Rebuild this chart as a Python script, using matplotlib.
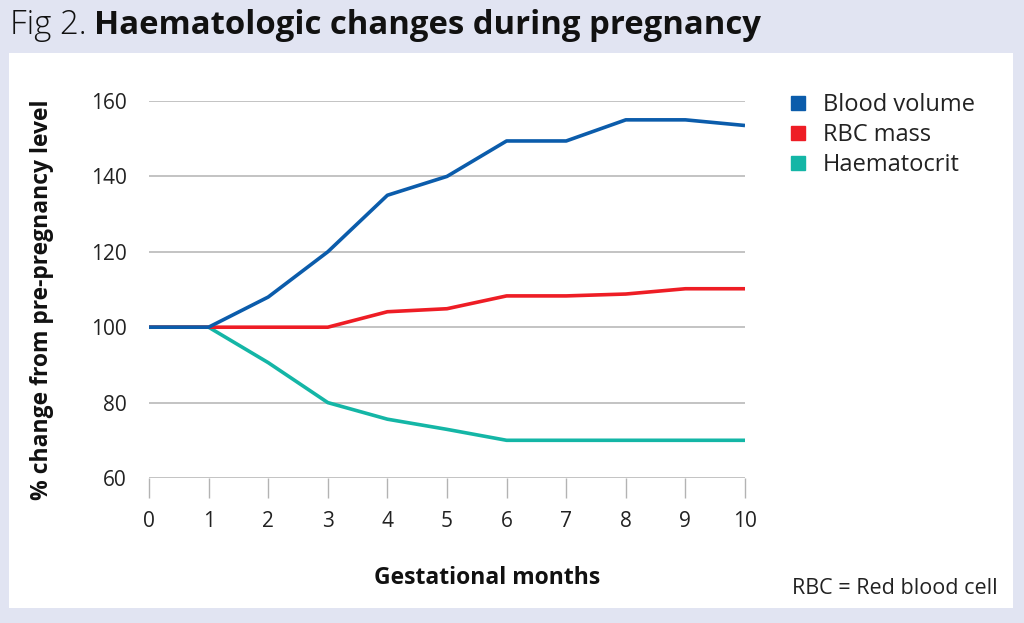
import matplotlib
matplotlib.use('Agg')
import matplotlib.pyplot as plt
from matplotlib.lines import Line2D
from matplotlib.patches import Rectangle

plt.rcParams['font.family'] = ['Open Sans', 'DejaVu Sans']

# data
months = [0, 1, 2, 3, 4, 5, 6, 7, 8, 9, 10]
blood_volume = [100, 100, 108, 120, 135, 140, 149.4, 149.4, 155, 155, 153.5]
rbc_mass = [100, 100, 100, 100, 104.1, 104.9, 108.3, 108.3, 108.8, 110.2, 110.2]
haematocrit = [100, 100, 90.6, 80, 75.6, 72.9, 70, 70, 70, 70, 70]
y_ticks = [60, 80, 100, 120, 140, 160]
series_names = ['Blood volume', 'RBC mass', 'Haematocrit']
series_colors = ['#0b5cab', '#ee1d25', '#14b6a6']

W, H = 1024, 623
fig = plt.figure(figsize=(W / 100, H / 100), dpi=100)
fig.patch.set_facecolor('#e1e4f2')

# white panel behind the chart
fig.patches.append(Rectangle((9 / W, 1 - 608 / H), (1013 - 9) / W, (608 - 53) / H,
                             transform=fig.transFigure, facecolor='white',
                             edgecolor='none', zorder=-1))

ax = fig.add_axes([149 / W, 1 - 478 / H, (745 - 149) / W, (478 - 101) / H])
ax.set_zorder(2)
ax.set_facecolor('none')

ax.plot(months, haematocrit, color=series_colors[2], lw=2.6, solid_capstyle='butt', zorder=3)
ax.plot(months, rbc_mass, color=series_colors[1], lw=2.6, solid_capstyle='butt', zorder=4)
ax.plot(months, blood_volume, color=series_colors[0], lw=2.6, solid_capstyle='butt', zorder=5)

ax.set_xlim(0, 10)
ax.set_ylim(60, 160)
ax.set_xticks(months)
ax.set_yticks(y_ticks)
ax.set_xticklabels([str(m) for m in months])
for s in ax.spines.values():
    s.set_visible(False)
ax.grid(axis='y', color='#b3b3b3', lw=1.1, zorder=1)
ax.set_axisbelow(True)
ax.tick_params(axis='x', length=14.5, width=1, color='#b3b3b3', pad=9,
               labelsize=15, labelcolor='#222222')
ax.tick_params(axis='y', length=0, pad=16, labelsize=15, labelcolor='#222222')

fig.text(487 / W, 1 - 578 / H, 'Gestational months', ha='center', va='center',
         fontsize=16.5, fontweight='bold', color='#111111')
fig.text(42 / W, 1 - 300 / H, '% change from pre-pregnancy level', ha='center',
         va='center', rotation=90, fontsize=16.5, fontweight='bold', color='#111111')
fig.text(998 / W, 1 - 588 / H, 'RBC = Red blood cell', ha='right', va='center',
         fontsize=15.5, color='#222222')

# legend
handles = [Line2D([], [], ls='none', marker='s', ms=10, color=c) for c in series_colors]
fig.legend(handles, series_names, loc='upper left',
           bbox_to_anchor=(765 / W, 1 - 72 / H), frameon=False, fontsize=17,
           handlelength=1.0, handletextpad=0.55, labelspacing=0.25,
           labelcolor='#222222')

# title: light prefix + bold rest
t1 = fig.text(10 / W, 1 - 25 / H, 'Fig 2.', ha='left', va='center', fontsize=23.7,
              fontweight='light', color='#111111')
fig.canvas.draw()
bb = t1.get_window_extent()
fig.text(bb.x1 / W + 7 / W, 1 - 25 / H, 'Haematologic changes during pregnancy',
         ha='left', va='center', fontsize=23.7, fontweight='bold', color='#111111')

fig.savefig('out.png', dpi=100, facecolor=fig.get_facecolor())
